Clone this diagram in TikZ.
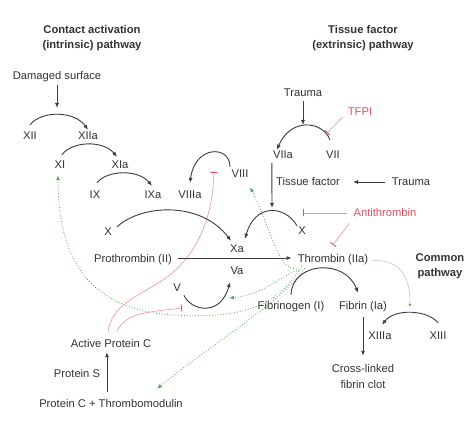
\documentclass[tikz,border=0pt]{standalone}
\usepackage{fontspec}
\setmainfont{Liberation Sans}
\usetikzlibrary{arrows.meta}
\definecolor{txt}{HTML}{333333}
\definecolor{ln}{HTML}{3C3C3C}
\definecolor{inhtxt}{HTML}{E0505F}
\definecolor{inhl}{HTML}{E8969C}
\definecolor{act}{HTML}{55AA55}
\definecolor{actl}{HTML}{B9CFB9}
\begin{document}
\begin{tikzpicture}[x=1pt,y=-1pt,
  lbl/.style={text=txt, font=\fontsize{11.2}{13}\selectfont, inner sep=1pt, text height=8pt, text depth=0pt},
  redlbl/.style={lbl, text=inhtxt},
  ttl/.style={text=txt, font=\fontsize{11.2}{15}\selectfont\bfseries, align=center, anchor=north, inner sep=0pt},
  twoline/.style={text=txt, font=\fontsize{11.2}{16}\selectfont, align=center, anchor=north, inner sep=0pt},
  arr/.style={draw=ln, line width=0.9pt, -{Latex[length=5pt,width=4pt]}},
  redinh/.style={draw=inhl, line width=0.6pt, -{Bar[width=7pt,line width=0.9pt,color=inhtxt]}},
  grn/.style={draw=act, line width=0.8pt, dotted, -{Latex[length=5pt,width=4pt]}},
  grnl/.style={draw=actl, line width=0.6pt, -{Circle[length=2.5pt,color=act]}}
]
\fill[white] (0,0) rectangle (474,422);
\useasboundingbox (0,0) rectangle (474,422);

% titles
\node[ttl] (t1) at (92,24.7) {Contact activation\\(intrinsic) pathway};
\node[ttl] (t2) at (363,24.7) {Tissue factor\\(extrinsic) pathway};
\node[ttl] (t3) at (440,253.7) {Common\\pathway};

% intrinsic
\node[lbl] (dmg) at (57,76) {Damaged surface};
\node[lbl] (xii) at (30,136) {XII};
\node[lbl] (xiia) at (88,136) {XIIa};
\node[lbl] (xi) at (60,165) {XI};
\node[lbl] (xia) at (120,165) {XIa};
\node[lbl] (ix) at (95,195) {IX};
\node[lbl] (ixa) at (153,195) {IXa};
\node[lbl] (viiia) at (190,195) {VIIIa};
\node[lbl] (viii) at (240,174) {VIII};
\node[lbl] (xl) at (108,232) {X};
\node[lbl] (xa) at (237,248) {Xa};
\node[lbl] (proth) at (133,258) {Prothrombin (II)};
\node[lbl] (thr) at (333,258) {Thrombin (IIa)};
\node[lbl] (va) at (237,271) {Va};
\node[lbl] (v) at (177,287) {V};
\node[lbl] (apc) at (111,343) {Active Protein C};
\node[lbl] (ps) at (77,373) {Protein S};
\node[lbl] (pct) at (111,403) {Protein C + Thrombomodulin};

% extrinsic
\node[lbl] (trauma1) at (303,93) {Trauma};
\node[redlbl] (tfpi) at (360,112) {TFPI};
\node[lbl] (viia) at (283,155) {VIIa};
\node[lbl] (vii) at (333,155) {VII};
\node[lbl] (tf) at (308,182) {Tissue factor};
\node[lbl] (trauma2) at (411,182) {Trauma};
\node[lbl] (xr) at (302,231) {X};
\node[redlbl] (at) at (385,213) {Antithrombin};

% common
\node[lbl] (fbg) at (291,305) {Fibrinogen (I)};
\node[lbl] (fib) at (363,305) {Fibrin (Ia)};
\node[lbl] (xiiia) at (380,335) {XIIIa};
\node[lbl] (xiii) at (438,335) {XIII};
\node[twoline] (clot) at (363,363.8) {Cross-linked\\fibrin clot};

% coordinates for free ends
\coordinate (c1) at (57,108);
\coordinate (c2) at (303,125);
\coordinate (c4) at (272,208);
\coordinate (tfpiinh) at (327,133);
\coordinate (atx) at (303,213);
\coordinate (viiiinh) at (214,172);
\coordinate (vinh) at (182,308);
\coordinate (vact) at (229,298);
\coordinate (xiiiact) at (410,306);

% green activations (thrombin feedback)
\draw[grn] ([xshift=5pt,yshift=-3pt]thr.south west) .. controls (285,295) and (260,312) .. (215,315) .. controls (130,320) and (58,300) .. ([xshift=-2pt,yshift=-5pt]xi.south);
\draw[grn] ([yshift=-5pt]thr.south west) .. controls (278,272) and (272,230) .. ([xshift=10pt,yshift=-8pt]viii.south);
\draw[grn] ([xshift=3pt,yshift=-7pt]thr.south west) .. controls (285,272) and (265,295) .. (vact);
\draw[grn] ([xshift=8pt,yshift=-5pt]thr.south west) .. controls (285,300) and (210,345) .. ([xshift=46pt,yshift=9pt]pct.north);
\draw[grnl] ([xshift=2pt,yshift=3pt]thr.south east) .. controls (400,260) and (410,275) .. (xiiiact);

% red inhibitions
\draw[redinh] ([xshift=-4pt]tfpi.south west) -- (tfpiinh);
\draw[redinh] ([xshift=-5pt]at.west) -- (atx);
\draw[redinh] ([xshift=-3pt,yshift=-5pt]at.south west) -- ([yshift=8pt]thr.north);
\draw[redinh] ([xshift=-3pt,yshift=6pt]apc.north) .. controls (112,305) and (135,298) .. (163,280) .. controls (185,265) and (212,235) .. (viiiinh);
\draw[redinh] ([xshift=6pt,yshift=6pt]apc.north) .. controls (125,312) and (150,312) .. (vinh);

% black arrows
\draw[arr] ([yshift=-4pt]dmg.south) -- (c1);
\draw[arr] ([yshift=6pt]xii.north) .. controls (42,110) and (75,111) .. ([yshift=1pt]xiia.north);
\draw[arr] ([xshift=2pt,yshift=5pt]xi.north) .. controls (72,141) and (103,140) .. ([xshift=-3pt,yshift=3pt]xia.north);
\draw[arr] ([xshift=2pt,yshift=7pt]ix.north) .. controls (107,170) and (138,169) .. ([xshift=-1pt,yshift=4pt]ixa.north);
\draw[arr] ([xshift=-10pt,yshift=2pt]viii.north) .. controls (230,145) and (195,145) .. ([yshift=7pt]viiia.north);
\draw[arr] ([xshift=4pt,yshift=5pt]xl.east) .. controls (140,205) and (200,200) .. ([xshift=-6pt,yshift=2pt]xa.north);
\draw[arr] ([xshift=-5pt]xr.north) .. controls (285,205) and (255,203) .. ([xshift=8pt,yshift=4pt]xa.north);
\draw[arr] ([xshift=-3pt,yshift=10pt]vii.north) .. controls (322,120) and (290,118) .. ([xshift=-6pt]viia.north);
\draw[arr] ([yshift=-3pt]trauma1.south) -- (c2);
\draw[arr] ([xshift=-6pt]trauma2.west) -- ([xshift=12pt]tf.east);
\draw[arr] ([yshift=-3pt]viia.south west) -- (c4);
\draw[arr] ([xshift=5pt]proth.east) -- ([xshift=-5pt]thr.west);
\draw[arr] ([xshift=2pt,yshift=-3pt]v.south east) .. controls (190,310) and (220,318) .. ([xshift=-7pt,yshift=-6pt]va.south);
\draw[arr] ([yshift=5pt]fbg.north) .. controls (292,262) and (345,258) .. ([xshift=-5pt,yshift=7pt]fib.north);
\draw[arr] ([yshift=-7pt]fib.south) -- ([yshift=8pt]clot.north);
\draw[arr] ([yshift=7pt]xiii.north) .. controls (428,310) and (395,308) .. ([xshift=2pt,yshift=5pt]xiiia.north);
\draw[arr] ([xshift=-4pt,yshift=6pt]pct.north) -- ([xshift=-4pt,yshift=-4pt]apc.south);
\end{tikzpicture}
\end{document}
